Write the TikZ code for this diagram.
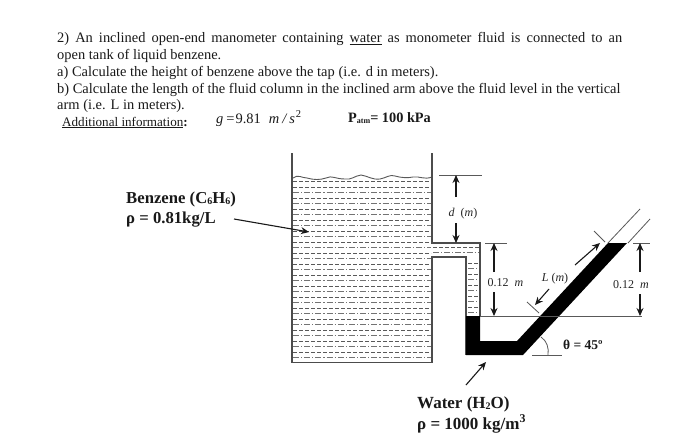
\documentclass[tikz,border=0pt]{standalone}
\usepackage{fontspec}
\setmainfont{Liberation Serif}
\usetikzlibrary{arrows.meta,calc}
\tikzset{
  x=1pt,y=-1pt,
  wall/.style={draw=black!70,line width=1.5pt},
  thin line/.style={draw=black!65,line width=0.8pt},
  dim/.style={draw=black!90,line width=1.1pt,-{Stealth[length=8pt,width=7pt]}},
  txt/.style={inner sep=0pt,anchor=base west,text=black!90,font=\fontsize{14.45}{16}\selectfont},
  bold/.style={inner sep=0pt,anchor=base west,text=black!90,font=\fontsize{16.7}{18}\selectfont\bfseries},
  boldw/.style={inner sep=0pt,anchor=base west,text=black!90,font=\fontsize{17}{18}\selectfont\bfseries},
  small/.style={inner sep=0pt,anchor=base,text=black!85,font=\fontsize{12}{14}\selectfont},
  rowa/.style={draw=black!65,line width=0.9pt,dash pattern=on 3.5pt off 2.5pt},
  rowb/.style={draw=black!55,line width=0.8pt,dash pattern=on 6pt off 2pt on 1.2pt off 2pt}
}
\begin{document}
\begin{tikzpicture}
\useasboundingbox (0,0) rectangle (700,445);
\fill[white] (0,0) rectangle (700,445);
% text
\node[txt] (t1) at (57,42.5) {\makebox[565pt][s]{2) An inclined open-end manometer containing \underline{water} as monometer fluid is connected to an}};
\node[txt] (t2) at (57,59) {open tank of liquid benzene.};
\node[txt] (t3) at (57,76) {a) Calculate the height of benzene above the tap (i.e. d in meters).};
\node[txt] (t4) at (57,93) {b) Calculate the length of the fluid column in the inclined arm above the fluid level in the vertical};
\node[txt] (t5) at (57,109) {arm (i.e. L in meters).};
\node[txt,font=\fontsize{13.1}{16}\selectfont] (t6) at (62,126) {\underline{Additional information}\textbf{:}};
\node[txt] (t7) at (216,123) {\textit{g}\hspace{3pt}=\hspace{1pt}9.81\hspace{8pt}\textit{m\hspace{3pt}/\hspace{3pt}s}\hspace{1pt}\raisebox{6pt}{\fontsize{10.5}{12}\selectfont 2}};
\node[inner sep=0pt,anchor=base west,text=black!90,font=\fontsize{14.3}{16}\selectfont\bfseries] (t8) at (348,122) {P\raisebox{-1.5pt}{\fontsize{8}{9}\selectfont atm}= 100 kPa};
% liquid rows
\foreach \y in {187,198,...,360}{\draw[rowa] (293,\y) -- (431,\y);}
\foreach \y in {192.5,203.5,...,360}{\draw[rowb] (293,\y) -- (431,\y);}
\draw[rowa] (433,247) -- (479,247);
\draw[rowb] (433,252.5) -- (479,252.5);
\foreach \y in {263,274,...,314}{\draw[rowa] (468,\y) -- (479,\y);}
\foreach \y in {268.5,279.5,...,314}{\draw[rowb] (468,\y) -- (479,\y);}
% surface
\draw[black!65,line width=0.9pt] (293,178) .. controls (298,174) and (302,178) .. (307,178) .. controls (314,180) and (320,180) .. (326,178) .. controls (332,175) and (335,179) .. (345,179) .. controls (352,180) and (354,176) .. (361,175) .. controls (368,176) and (372,180) .. (380,179) .. controls (386,178) and (390,174) .. (395,176) .. controls (402,178) and (408,178) .. (413,177) .. controls (420,176) and (424,180) .. (432,177);
\draw[rowa] (293,181) -- (431,181);
% tank walls
\draw[wall] (292,153) -- (292,362.5) -- (432,362.5) -- (432,257) -- (466,257) -- (466,355);
\draw[wall] (432,153) -- (432,243) -- (480,243) -- (480,316);
% black fluid
\fill[black] (466,316) -- (480,316) -- (480,341) -- (517,341) -- (608,243) -- (627,243) -- (523,355) -- (466,355) -- cycle;
% open arm
\draw[thin line] (608,243) -- (640,209);
\draw[thin line] (628,243) -- (650,219);
% levels
\draw[thin line] (480,316) -- (642,316);
\draw[thin line] (532,355) -- (562,355);
\draw[thin line] (541,337) .. controls (547,341) and (549,348) .. (548,355);
% ticks
\coordinate (dtop) at (456,175);
\draw[thin line] (439,175) -- (482,175);
\coordinate (dbot) at (456,243);
\coordinate (ltop) at (494,243);
\coordinate (lbot) at (494,316);
\coordinate (rtop) at (640,243);
\coordinate (rbot) at (640,316);
\draw[thin line] (485,243) -- (507,243);
\draw[thin line] (633,243) -- (650,243);
\draw[thin line] (594,231) -- (605,242);
\draw[thin line] (527,302) -- (539,313);
% dims
\node[small] (dlab) at (463,216) {\textit{d}\ \ (\textit{m})};
\draw[dim] (456,197) -- (dtop);
\draw[dim] (456,223) -- (dbot);
\node[small] (l12) at (505.5,286) {0.12\ \ \textit{m}};
\draw[dim] (494,272) -- (ltop);
\draw[dim] (494,292) -- (lbot);
\node[small] (r12) at (631,288) {0.12\ \ \textit{m}};
\draw[dim] (640,272) -- (rtop);
\draw[dim] (640,294) -- (rbot);
\node[small] (Llab) at (555,281) {\textit{L}\ (\textit{m})};
\draw[dim] (575,265) -- (600,243);
\draw[dim] (549,289) -- (535,305);
\node[inner sep=0pt,anchor=base west,text=black!90,font=\fontsize{13.5}{15}\selectfont\bfseries] (theta) at (563,349) {θ = 45º};
% labels
\node[bold] (b1) at (126,203) {Benzene (C\raisebox{-1.5pt}{\fontsize{10}{11}\selectfont 6}H\raisebox{-1.5pt}{\fontsize{10}{11}\selectfont 6})};
\node[bold] (b2) at (126,223) {ρ = 0.81kg/L};
\coordinate (barrow) at (309,232);
\draw[dim] (234,219) -- (barrow);
\node[boldw] (w1) at (417,408) {Water (H\raisebox{-1.5pt}{\fontsize{10}{11}\selectfont 2}O)};
\node[boldw] (w2) at (417,429) {ρ = 1000 kg/m\textsuperscript{3}};
\draw[dim] (466,385) -- (486,362);
\end{tikzpicture}
\end{document}
